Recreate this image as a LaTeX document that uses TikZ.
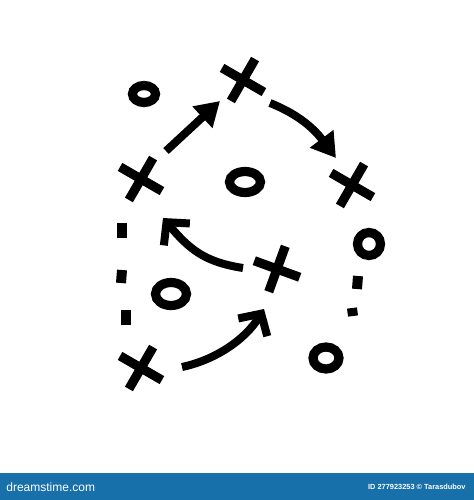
\documentclass[tikz,border=0pt]{standalone}
\usepackage{fontspec}
\newfontfamily\barfont{Liberation Sans}
\usetikzlibrary{shapes.geometric,shapes.misc,arrows.meta}
\definecolor{barblue}{RGB}{24,112,170}
\begin{document}
\begin{tikzpicture}[x=0.5pt,y=-0.5pt,
  xmark/.style={cross out,draw,line width=4.6pt,minimum width=12.5pt,minimum height=12.5pt,inner sep=0pt,rotate=15},
  omark/.style={ellipse,draw,line width=4.6pt,inner sep=0pt},
  stroke/.style={line width=4pt},
  dashmark/.style={line width=5pt},
  filledhead/.style={-{Triangle[length=12pt,width=14pt]}},
  openhead/.style={-{Straight Barb[length=8pt,width=17pt]}}]
\useasboundingbox (0,0) rectangle (474,500);
\fill[white] (0,0) rectangle (474,500);
% O marks
\node[omark,minimum width=11.5pt,minimum height=8.5pt] (o1) at (144,94) {};
\node[omark,minimum width=15.5pt,minimum height=10.5pt] (o2) at (245,182) {};
\node[omark,minimum width=11.5pt,minimum height=11.5pt] (o3) at (369,244) {};
\node[omark,minimum width=15.5pt,minimum height=11.5pt] (o4) at (171,294) {};
\node[omark,minimum width=13pt,minimum height=11pt] (o5) at (326,358) {};
% X marks
\node[xmark] (x1) at (243,80) {};
\node[xmark] (x2) at (141,179) {};
\node[xmark] (x3) at (352,185) {};
\node[xmark,rotate=10] (x4) at (277,269) {};
\node[xmark] (x5) at (141,368) {};
% arrows
\coordinate (a1s) at (166,151); \coordinate (a1e) at (220,101);
\draw[stroke,filledhead] (a1s) -- (a1e);
\coordinate (a2s) at (270,103); \coordinate (a2e) at (336,158);
\draw[stroke,filledhead] (a2s) .. controls (300,115) and (315,130) .. (a2e);
\coordinate (a3s) at (243,268); \coordinate (a3e) at (163,218);
\draw[stroke,openhead] (a3s) .. controls (205,262) and (190,250) .. (a3e);
\coordinate (a4s) at (182,367); \coordinate (a4e) at (264,309);
\draw[stroke,openhead] (a4s) .. controls (215,360) and (245,340) .. (a4e);
% dashes
\draw[dashmark] (122,223) -- (122,238);
\draw[dashmark] (122,270) -- (121,283);
\draw[dashmark] (126,310) -- (126,325);
\draw[dashmark] (358,276) -- (357,289);
\draw[dashmark] (352,308) -- (353,316);
% bar
\fill[barblue] (0,473) rectangle (474,500);
\node[anchor=west,text=white,inner sep=0pt,font=\barfont\fontsize{6pt}{7pt}\selectfont] (logo) at (6,487) {dreamstime.com};
\node[anchor=east,text=white,inner sep=0pt,font=\barfont\bfseries\fontsize{3.7pt}{4pt}\selectfont] (credit) at (466,487) {ID 277923253 © Tarasdubov};
\end{tikzpicture}
\end{document}
